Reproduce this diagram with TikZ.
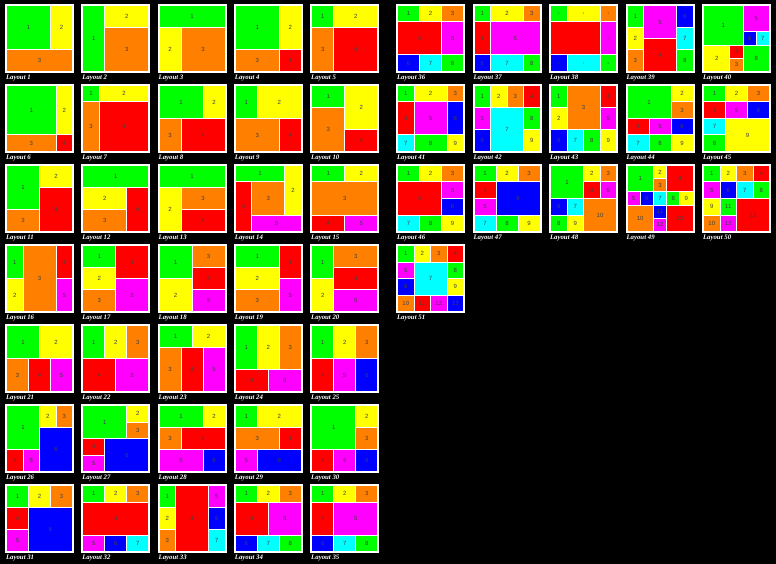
\documentclass[tikz,border=0pt]{standalone}
\usepackage{fontspec}
\setmainfont{Liberation Serif}
\newfontfamily\numfont{Liberation Sans}
\definecolor{G}{HTML}{00FF00}
\definecolor{Y}{HTML}{FFFF00}
\definecolor{O}{HTML}{FF8000}
\definecolor{R}{HTML}{FF0000}
\definecolor{M}{HTML}{FF00FF}
\definecolor{B}{HTML}{0000FF}
\definecolor{C}{HTML}{00FFFF}
\def\numsize{\fontsize{6}{6.5}\selectfont}
\tikzset{
  lbl/.style={anchor=base west, text=white, inner sep=0pt,
    font=\fontsize{6.8}{7}\selectfont\bfseries\itshape},
  num/.style={inner sep=0pt, text=black!75, font=\numfont\numsize},
}
\newcommand\tile[1]{%
  \pgfmathtruncatemacro\ti{#1<36 ? #1-1 : #1-36}%
  \pgfmathtruncatemacro\tc{mod(\ti,5)}%
  \pgfmathtruncatemacro\tr{div(\ti,5)}%
  \pgfmathsetmacro\tx{#1<36 ? 5+76.3*\tc : 396+76.5*\tc}%
  \pgfmathsetmacro\ty{4+80*\tr}%
  \def\tn{#1}%
  \fill[white] (\tx,\ty) rectangle ++(69,69);
  \node[lbl] (lab#1) at (\tx+0.8,\ty+75.5) {Layout #1};
}
\newcommand\cell[6]{%
  \fill[#5] ({\tx+2+66*(#1)},{\ty+2+66*(#2)}) rectangle ({\tx+1+66*(#3)},{\ty+1+66*(#4)});
  \node[num] (c\tn-#6) at ({\tx+1.5+33*((#1)+(#3))},{\ty+1.5+33*((#2)+(#4))}) {#6};
}
\begin{document}
\begin{tikzpicture}[x=1pt,y=-1pt]
\fill[black] (0,0) rectangle (776,564);
\useasboundingbox (0,0) rectangle (776,564);
\tile{1}
\cell{0}{0}{2/3}{2/3}{G}{1}\cell{2/3}{0}{1}{2/3}{Y}{2}\cell{0}{2/3}{1}{1}{O}{3}
\tile{2}
\cell{0}{0}{1/3}{1}{G}{1}\cell{1/3}{0}{1}{1/3}{Y}{2}\cell{1/3}{1/3}{1}{1}{O}{3}
\tile{3}
\cell{0}{0}{1}{1/3}{G}{1}\cell{0}{1/3}{1/3}{1}{Y}{2}\cell{1/3}{1/3}{1}{1}{O}{3}
\tile{4}
\cell{0}{0}{2/3}{2/3}{G}{1}\cell{2/3}{0}{1}{2/3}{Y}{2}\cell{0}{2/3}{2/3}{1}{O}{3}\cell{2/3}{2/3}{1}{1}{R}{4}
\tile{5}
\cell{0}{0}{1/3}{1/3}{G}{1}\cell{1/3}{0}{1}{1/3}{Y}{2}\cell{0}{1/3}{1/3}{1}{O}{3}\cell{1/3}{1/3}{1}{1}{R}{4}
\tile{6}
\cell{0}{0}{3/4}{3/4}{G}{1}\cell{3/4}{0}{1}{3/4}{Y}{2}\cell{0}{3/4}{3/4}{1}{O}{3}\cell{3/4}{3/4}{1}{1}{R}{4}
\tile{7}
\cell{0}{0}{1/4}{1/4}{G}{1}\cell{1/4}{0}{1}{1/4}{Y}{2}\cell{0}{1/4}{1/4}{1}{O}{3}\cell{1/4}{1/4}{1}{1}{R}{4}
\tile{8}
\cell{0}{0}{2/3}{1/2}{G}{1}\cell{2/3}{0}{1}{1/2}{Y}{2}\cell{0}{1/2}{1/3}{1}{O}{3}\cell{1/3}{1/2}{1}{1}{R}{4}
\tile{9}
\cell{0}{0}{1/3}{1/2}{G}{1}\cell{1/3}{0}{1}{1/2}{Y}{2}\cell{0}{1/2}{2/3}{1}{O}{3}\cell{2/3}{1/2}{1}{1}{R}{4}
\tile{10}
\cell{0}{0}{1/2}{1/3}{G}{1}\cell{1/2}{0}{1}{2/3}{Y}{2}\cell{0}{1/3}{1/2}{1}{O}{3}\cell{1/2}{2/3}{1}{1}{R}{4}
\tile{11}
\cell{0}{0}{1/2}{2/3}{G}{1}\cell{1/2}{0}{1}{1/3}{Y}{2}\cell{0}{2/3}{1/2}{1}{O}{3}\cell{1/2}{1/3}{1}{1}{R}{4}
\tile{12}
\cell{0}{0}{1}{1/3}{G}{1}\cell{0}{1/3}{2/3}{2/3}{Y}{2}\cell{0}{2/3}{2/3}{1}{O}{3}\cell{2/3}{1/3}{1}{1}{R}{4}
\tile{13}
\cell{0}{0}{1}{1/3}{G}{1}\cell{0}{1/3}{1/3}{1}{Y}{2}\cell{1/3}{1/3}{1}{2/3}{O}{3}\cell{1/3}{2/3}{1}{1}{R}{4}
\tile{14}
\cell{0}{0}{3/4}{1/4}{G}{1}\cell{3/4}{0}{1}{3/4}{Y}{2}\cell{1/4}{1/4}{3/4}{3/4}{O}{3}\cell{0}{1/4}{1/4}{1}{R}{4}\cell{1/4}{3/4}{1}{1}{M}{5}
\tile{15}
\cell{0}{0}{1/2}{1/4}{G}{1}\cell{1/2}{0}{1}{1/4}{Y}{2}\cell{0}{1/4}{1}{3/4}{O}{3}\cell{0}{3/4}{1/2}{1}{R}{4}\cell{1/2}{3/4}{1}{1}{M}{5}
\tile{16}
\cell{0}{0}{1/4}{1/2}{G}{1}\cell{0}{1/2}{1/4}{1}{Y}{2}\cell{1/4}{0}{3/4}{1}{O}{3}\cell{3/4}{0}{1}{1/2}{R}{4}\cell{3/4}{1/2}{1}{1}{M}{5}
\tile{17}
\cell{0}{0}{1/2}{1/3}{G}{1}\cell{0}{1/3}{1/2}{2/3}{Y}{2}\cell{0}{2/3}{1/2}{1}{O}{3}\cell{1/2}{0}{1}{1/2}{R}{4}\cell{1/2}{1/2}{1}{1}{M}{5}
\tile{18}
\cell{0}{0}{1/2}{1/2}{G}{1}\cell{0}{1/2}{1/2}{1}{Y}{2}\cell{1/2}{0}{1}{1/3}{O}{3}\cell{1/2}{1/3}{1}{2/3}{R}{4}\cell{1/2}{2/3}{1}{1}{M}{5}
\tile{19}
\cell{0}{0}{2/3}{1/3}{G}{1}\cell{0}{1/3}{2/3}{2/3}{Y}{2}\cell{0}{2/3}{2/3}{1}{O}{3}\cell{2/3}{0}{1}{1/2}{R}{4}\cell{2/3}{1/2}{1}{1}{M}{5}
\tile{20}
\cell{0}{0}{1/3}{1/2}{G}{1}\cell{0}{1/2}{1/3}{1}{Y}{2}\cell{1/3}{0}{1}{1/3}{O}{3}\cell{1/3}{1/3}{1}{2/3}{R}{4}\cell{1/3}{2/3}{1}{1}{M}{5}
\tile{21}
\cell{0}{0}{1/2}{1/2}{G}{1}\cell{1/2}{0}{1}{1/2}{Y}{2}\cell{0}{1/2}{1/3}{1}{O}{3}\cell{1/3}{1/2}{2/3}{1}{R}{4}\cell{2/3}{1/2}{1}{1}{M}{5}
\tile{22}
\cell{0}{0}{1/3}{1/2}{G}{1}\cell{1/3}{0}{2/3}{1/2}{Y}{2}\cell{2/3}{0}{1}{1/2}{O}{3}\cell{0}{1/2}{1/2}{1}{R}{4}\cell{1/2}{1/2}{1}{1}{M}{5}
\tile{23}
\cell{0}{0}{1/2}{1/3}{G}{1}\cell{1/2}{0}{1}{1/3}{Y}{2}\cell{0}{1/3}{1/3}{1}{O}{3}\cell{1/3}{1/3}{2/3}{1}{R}{4}\cell{2/3}{1/3}{1}{1}{M}{5}
\tile{24}
\cell{0}{0}{1/3}{2/3}{G}{1}\cell{1/3}{0}{2/3}{2/3}{Y}{2}\cell{2/3}{0}{1}{2/3}{O}{3}\cell{0}{2/3}{1/2}{1}{R}{4}\cell{1/2}{2/3}{1}{1}{M}{5}
\tile{25}
\cell{0}{0}{1/3}{1/2}{G}{1}\cell{1/3}{0}{2/3}{1/2}{Y}{2}\cell{2/3}{0}{1}{1/2}{O}{3}\cell{0}{1/2}{1/3}{1}{R}{4}\cell{1/3}{1/2}{2/3}{1}{M}{5}\cell{2/3}{1/2}{1}{1}{B}{6}
\tile{26}
\cell{0}{0}{1/2}{2/3}{G}{1}\cell{1/2}{0}{3/4}{1/3}{Y}{2}\cell{3/4}{0}{1}{1/3}{O}{3}\cell{0}{2/3}{1/4}{1}{R}{4}\cell{1/4}{2/3}{1/2}{1}{M}{5}\cell{1/2}{1/3}{1}{1}{B}{6}
\tile{27}
\cell{0}{0}{2/3}{1/2}{G}{1}\cell{2/3}{0}{1}{1/4}{Y}{2}\cell{2/3}{1/4}{1}{1/2}{O}{3}\cell{0}{1/2}{1/3}{3/4}{R}{4}\cell{0}{3/4}{1/3}{1}{M}{5}\cell{1/3}{1/2}{1}{1}{B}{6}
\tile{28}
\cell{0}{0}{2/3}{1/3}{G}{1}\cell{2/3}{0}{1}{1/3}{Y}{2}\cell{0}{1/3}{1/3}{2/3}{O}{3}\cell{1/3}{1/3}{1}{2/3}{R}{4}\cell{0}{2/3}{2/3}{1}{M}{5}\cell{2/3}{2/3}{1}{1}{B}{6}
\tile{29}
\cell{0}{0}{1/3}{1/3}{G}{1}\cell{1/3}{0}{1}{1/3}{Y}{2}\cell{0}{1/3}{2/3}{2/3}{O}{3}\cell{2/3}{1/3}{1}{2/3}{R}{4}\cell{0}{2/3}{1/3}{1}{M}{5}\cell{1/3}{2/3}{1}{1}{B}{6}
\tile{30}
\cell{0}{0}{2/3}{2/3}{G}{1}\cell{2/3}{0}{1}{1/3}{Y}{2}\cell{2/3}{1/3}{1}{2/3}{O}{3}\cell{0}{2/3}{1/3}{1}{R}{4}\cell{1/3}{2/3}{2/3}{1}{M}{5}\cell{2/3}{2/3}{1}{1}{B}{6}
\tile{31}
\cell{0}{0}{1/3}{1/3}{G}{1}\cell{1/3}{0}{2/3}{1/3}{Y}{2}\cell{2/3}{0}{1}{1/3}{O}{3}\cell{0}{1/3}{1/3}{2/3}{R}{4}\cell{0}{2/3}{1/3}{1}{M}{5}\cell{1/3}{1/3}{1}{1}{B}{6}
\tile{32}
\cell{0}{0}{1/3}{1/4}{G}{1}\cell{1/3}{0}{2/3}{1/4}{Y}{2}\cell{2/3}{0}{1}{1/4}{O}{3}\cell{0}{1/4}{1}{3/4}{R}{4}\cell{0}{3/4}{1/3}{1}{M}{5}\cell{1/3}{3/4}{2/3}{1}{B}{6}\cell{2/3}{3/4}{1}{1}{C}{7}
\tile{33}
\cell{0}{0}{1/4}{1/3}{G}{1}\cell{0}{1/3}{1/4}{2/3}{Y}{2}\cell{0}{2/3}{1/4}{1}{O}{3}\cell{1/4}{0}{3/4}{1}{R}{4}\cell{3/4}{0}{1}{1/3}{M}{5}\cell{3/4}{1/3}{1}{2/3}{B}{6}\cell{3/4}{2/3}{1}{1}{C}{7}
\tile{34}
\cell{0}{0}{1/3}{1/4}{G}{1}\cell{1/3}{0}{2/3}{1/4}{Y}{2}\cell{2/3}{0}{1}{1/4}{O}{3}\cell{0}{1/4}{1/2}{3/4}{R}{4}\cell{1/2}{1/4}{1}{3/4}{M}{5}\cell{0}{3/4}{1/3}{1}{B}{6}\cell{1/3}{3/4}{2/3}{1}{C}{7}\cell{2/3}{3/4}{1}{1}{G}{8}
\tile{35}
\cell{0}{0}{1/3}{1/4}{G}{1}\cell{1/3}{0}{2/3}{1/4}{Y}{2}\cell{2/3}{0}{1}{1/4}{O}{3}\cell{0}{1/4}{1/3}{3/4}{R}{4}\cell{1/3}{1/4}{1}{3/4}{M}{5}\cell{0}{3/4}{1/3}{1}{B}{6}\cell{1/3}{3/4}{2/3}{1}{C}{7}\cell{2/3}{3/4}{1}{1}{G}{8}
\tile{36}
\cell{0}{0}{1/3}{1/4}{G}{1}\cell{1/3}{0}{2/3}{1/4}{Y}{2}\cell{2/3}{0}{1}{1/4}{O}{3}\cell{0}{1/4}{2/3}{3/4}{R}{4}\cell{2/3}{1/4}{1}{3/4}{M}{5}\cell{0}{3/4}{1/3}{1}{B}{6}\cell{1/3}{3/4}{2/3}{1}{C}{7}\cell{2/3}{3/4}{1}{1}{G}{8}
\tile{37}
\cell{0}{0}{1/4}{1/4}{G}{1}\cell{1/4}{0}{3/4}{1/4}{Y}{2}\cell{3/4}{0}{1}{1/4}{O}{3}\cell{0}{1/4}{1/4}{3/4}{R}{4}\cell{1/4}{1/4}{1}{3/4}{M}{5}\cell{0}{3/4}{1/4}{1}{B}{6}\cell{1/4}{3/4}{3/4}{1}{C}{7}\cell{3/4}{3/4}{1}{1}{G}{8}
\begin{scope}
\def\numsize{\fontsize{2.4}{3}\selectfont}
\tile{38}
\cell{0}{0}{1/4}{1/4}{G}{1}\cell{1/4}{0}{3/4}{1/4}{Y}{2}\cell{3/4}{0}{1}{1/4}{O}{3}\cell{0}{1/4}{3/4}{3/4}{R}{4}\cell{3/4}{1/4}{1}{3/4}{M}{5}\cell{0}{3/4}{1/4}{1}{B}{6}\cell{1/4}{3/4}{3/4}{1}{C}{7}\cell{3/4}{3/4}{1}{1}{G}{8}
\end{scope}
\tile{39}
\cell{0}{0}{1/4}{1/3}{G}{1}\cell{0}{1/3}{1/4}{2/3}{Y}{2}\cell{0}{2/3}{1/4}{1}{O}{3}\cell{1/4}{1/2}{3/4}{1}{R}{4}\cell{1/4}{0}{3/4}{1/2}{M}{5}\cell{3/4}{0}{1}{1/3}{B}{6}\cell{3/4}{1/3}{1}{2/3}{C}{7}\cell{3/4}{2/3}{1}{1}{G}{8}
\tile{40}
\cell{0}{0}{3/5}{3/5}{G}{1}\cell{0}{3/5}{2/5}{1}{Y}{2}\cell{2/5}{4/5}{3/5}{1}{O}{3}\cell{2/5}{3/5}{3/5}{4/5}{R}{4}\cell{3/5}{0}{1}{2/5}{M}{5}\cell{3/5}{2/5}{4/5}{3/5}{B}{6}\cell{4/5}{2/5}{1}{3/5}{C}{7}\cell{3/5}{3/5}{1}{1}{G}{8}
\tile{41}
\cell{0}{0}{1/4}{1/4}{G}{1}\cell{1/4}{0}{3/4}{1/4}{Y}{2}\cell{3/4}{0}{1}{1/4}{O}{3}\cell{0}{1/4}{1/4}{3/4}{R}{4}\cell{1/4}{1/4}{3/4}{3/4}{M}{5}\cell{3/4}{1/4}{1}{3/4}{B}{6}\cell{0}{3/4}{1/4}{1}{C}{7}\cell{1/4}{3/4}{3/4}{1}{G}{8}\cell{3/4}{3/4}{1}{1}{Y}{9}
\tile{42}
\cell{0}{0}{1/4}{1/3}{G}{1}\cell{1/4}{0}{1/2}{1/3}{Y}{2}\cell{1/2}{0}{3/4}{1/3}{O}{3}\cell{3/4}{0}{1}{1/3}{R}{4}\cell{0}{1/3}{1/4}{2/3}{M}{5}\cell{0}{2/3}{1/4}{1}{B}{6}\cell{1/4}{1/3}{3/4}{1}{C}{7}\cell{3/4}{1/3}{1}{2/3}{G}{8}\cell{3/4}{2/3}{1}{1}{Y}{9}
\tile{43}
\cell{0}{0}{1/4}{1/3}{G}{1}\cell{0}{1/3}{1/4}{2/3}{Y}{2}\cell{1/4}{0}{3/4}{2/3}{O}{3}\cell{3/4}{0}{1}{1/3}{R}{4}\cell{3/4}{1/3}{1}{2/3}{M}{5}\cell{0}{2/3}{1/4}{1}{B}{6}\cell{1/4}{2/3}{1/2}{1}{C}{7}\cell{1/2}{2/3}{3/4}{1}{G}{8}\cell{3/4}{2/3}{1}{1}{Y}{9}
\tile{44}
\cell{0}{0}{2/3}{1/2}{G}{1}\cell{2/3}{0}{1}{1/4}{Y}{2}\cell{2/3}{1/4}{1}{1/2}{O}{3}\cell{0}{1/2}{1/3}{3/4}{R}{4}\cell{1/3}{1/2}{2/3}{3/4}{M}{5}\cell{2/3}{1/2}{1}{3/4}{B}{6}\cell{0}{3/4}{1/3}{1}{C}{7}\cell{1/3}{3/4}{2/3}{1}{G}{8}\cell{2/3}{3/4}{1}{1}{Y}{9}
\tile{45}
\cell{0}{0}{1/3}{1/4}{G}{1}\cell{1/3}{0}{2/3}{1/4}{Y}{2}\cell{2/3}{0}{1}{1/4}{O}{3}\cell{0}{1/4}{1/3}{1/2}{R}{4}\cell{1/3}{1/4}{2/3}{1/2}{M}{5}\cell{2/3}{1/4}{1}{1/2}{B}{6}\cell{0}{1/2}{1/3}{3/4}{C}{7}\cell{0}{3/4}{1/3}{1}{G}{8}\cell{1/3}{1/2}{1}{1}{Y}{9}
\tile{46}
\cell{0}{0}{1/3}{1/4}{G}{1}\cell{1/3}{0}{2/3}{1/4}{Y}{2}\cell{2/3}{0}{1}{1/4}{O}{3}\cell{0}{1/4}{2/3}{3/4}{R}{4}\cell{2/3}{1/4}{1}{1/2}{M}{5}\cell{2/3}{1/2}{1}{3/4}{B}{6}\cell{0}{3/4}{1/3}{1}{C}{7}\cell{1/3}{3/4}{2/3}{1}{G}{8}\cell{2/3}{3/4}{1}{1}{Y}{9}
\tile{47}
\cell{0}{0}{1/3}{1/4}{G}{1}\cell{1/3}{0}{2/3}{1/4}{Y}{2}\cell{2/3}{0}{1}{1/4}{O}{3}\cell{0}{1/4}{1/3}{1/2}{R}{4}\cell{0}{1/2}{1/3}{3/4}{M}{5}\cell{1/3}{1/4}{1}{3/4}{B}{6}\cell{0}{3/4}{1/3}{1}{C}{7}\cell{1/3}{3/4}{2/3}{1}{G}{8}\cell{2/3}{3/4}{1}{1}{Y}{9}
\tile{48}
\cell{0}{0}{1/2}{1/2}{G}{1}\cell{1/2}{0}{3/4}{1/4}{Y}{2}\cell{3/4}{0}{1}{1/4}{O}{3}\cell{1/2}{1/4}{3/4}{1/2}{R}{4}\cell{3/4}{1/4}{1}{1/2}{M}{5}\cell{0}{1/2}{1/4}{3/4}{B}{6}\cell{1/4}{1/2}{1/2}{3/4}{C}{7}\cell{0}{3/4}{1/4}{1}{G}{8}\cell{1/4}{3/4}{1/2}{1}{Y}{9}\cell{1/2}{1/2}{1}{1}{O}{10}
\tile{49}
\cell{0}{0}{2/5}{2/5}{G}{1}\cell{2/5}{0}{3/5}{1/5}{Y}{2}\cell{2/5}{1/5}{3/5}{2/5}{O}{3}\cell{3/5}{0}{1}{2/5}{R}{4}\cell{0}{2/5}{1/5}{3/5}{M}{5}\cell{1/5}{2/5}{2/5}{3/5}{B}{6}\cell{2/5}{2/5}{3/5}{3/5}{C}{7}\cell{3/5}{2/5}{4/5}{3/5}{G}{8}\cell{4/5}{2/5}{1}{3/5}{Y}{9}\cell{0}{3/5}{2/5}{1}{O}{10}\cell{2/5}{3/5}{3/5}{4/5}{B}{11}\cell{2/5}{4/5}{3/5}{1}{M}{12}\cell{3/5}{3/5}{1}{1}{R}{13}
\tile{50}
\cell{0}{0}{1/4}{1/4}{G}{1}\cell{1/4}{0}{1/2}{1/4}{Y}{2}\cell{1/2}{0}{3/4}{1/4}{O}{3}\cell{3/4}{0}{1}{1/4}{R}{4}\cell{0}{1/4}{1/4}{1/2}{M}{5}\cell{1/4}{1/4}{1/2}{1/2}{B}{6}\cell{1/2}{1/4}{3/4}{1/2}{C}{7}\cell{3/4}{1/4}{1}{1/2}{G}{8}\cell{0}{1/2}{1/4}{3/4}{Y}{9}\cell{0}{3/4}{1/4}{1}{O}{10}\cell{1/4}{1/2}{1/2}{3/4}{G}{11}\cell{1/4}{3/4}{1/2}{1}{M}{12}\cell{1/2}{1/2}{1}{1}{R}{13}
\tile{51}
\cell{0}{0}{1/4}{1/4}{G}{1}\cell{1/4}{0}{1/2}{1/4}{Y}{2}\cell{1/2}{0}{3/4}{1/4}{O}{3}\cell{3/4}{0}{1}{1/4}{R}{4}\cell{0}{1/4}{1/4}{1/2}{M}{5}\cell{0}{1/2}{1/4}{3/4}{B}{6}\cell{1/4}{1/4}{3/4}{3/4}{C}{7}\cell{3/4}{1/4}{1}{1/2}{G}{8}\cell{3/4}{1/2}{1}{3/4}{Y}{9}\cell{0}{3/4}{1/4}{1}{O}{10}\cell{1/4}{3/4}{1/2}{1}{R}{11}\cell{1/2}{3/4}{3/4}{1}{M}{12}\cell{3/4}{3/4}{1}{1}{B}{13}
\end{tikzpicture}
\end{document}
